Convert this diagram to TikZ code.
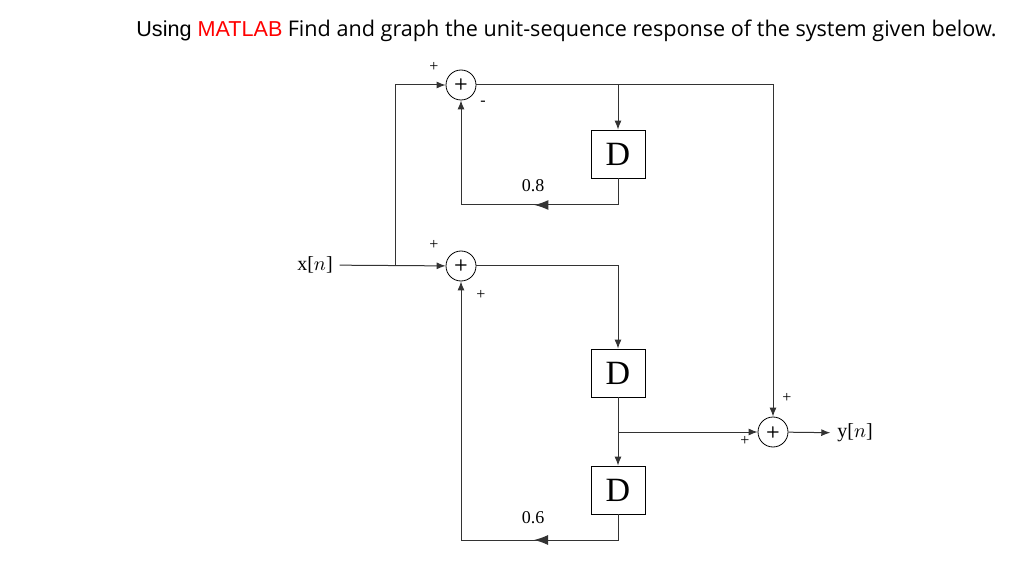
\documentclass[tikz,border=0pt]{standalone}
\usepackage{fontspec}
\setmainfont{Liberation Serif}
\newfontfamily\titlefont{Open Sans}
\newfontfamily\redfont{Liberation Sans}
\usetikzlibrary{arrows.meta,decorations.markings}
\begin{document}
\begin{tikzpicture}[x=0.5pt,y=-0.5pt,
    sum/.style={draw, circle, minimum size=15pt, inner sep=0pt, font=\bfseries\sffamily\footnotesize},
    delay/.style={draw, minimum width=27pt, minimum height=24pt, inner sep=0pt, font=\fontsize{17}{17}\selectfont},
    sign/.style={font=\footnotesize},
    wire/.style={draw=black!80, line width=0.5pt},
    midarrow/.style={postaction={decorate, decoration={markings, mark=at position #1 with {\arrow{Latex[length=7pt,width=5pt]}}}}},
    >={Latex[length=4.5pt,width=3.5pt]}]
    \useasboundingbox (0,0) rectangle (1024,567);

    \node[anchor=west, inner sep=0pt] (title) at (136,31)
        {\fontsize{10.8}{13}\selectfont{\redfont Using \textcolor{red}{MATLAB}} {\titlefont Find and graph the unit-sequence response of the system given below.}};

    % adders and delays
    \node[sum] (s1) at (461,85) {+};
    \node[sum] (s2) at (461,266) {+};
    \node[sum] (s3) at (773,432) {+};
    \node[delay] (d1) at (618,154) {D};
    \node[delay] (d2) at (618,373) {D};
    \node[delay] (d3) at (618,490) {D};
    \node (x) at (315,265) {x[$n$]};
    \node (y) at (855,433) {y[$n$]};

    % corner points
    \coordinate (br) at (395,266);
    \coordinate (f1) at (461,205);
    \coordinate (f2) at (461,540);
    \coordinate (j1) at (618,432);

    % signs and gains
    \node[sign] at (434,67) {+};
    \node[sign] at (483,103) {-};
    \node[sign] at (434,245) {+};
    \node[sign] at (481,295) {+};
    \node[sign] at (787,398) {+};
    \node[sign] at (745,441) {+};
    \node[font=\small] at (533,186) {0.8};
    \node[font=\small] at (533,518) {0.6};

    % wires
    \draw[wire,->] (x) -- (s2);
    \draw[wire,->] (br) |- (s1);
    \draw[wire,->] (s1) -| (s3);
    \draw[wire,->] (d1.north |- s1) -- (d1);
    \draw[wire,midarrow=0.6] (d1) |- (f1);
    \draw[wire,->] (f1) -- (s1);
    \draw[wire,->] (s2) -| (d2);
    \draw[wire,->] (d2) -- (d3);
    \draw[wire,->] (j1) -- (s3);
    \draw[wire,midarrow=0.6] (d3) |- (f2);
    \draw[wire,->] (f2) -- (s2);
    \draw[wire,->] (s3) -- (y);
\end{tikzpicture}
\end{document}
